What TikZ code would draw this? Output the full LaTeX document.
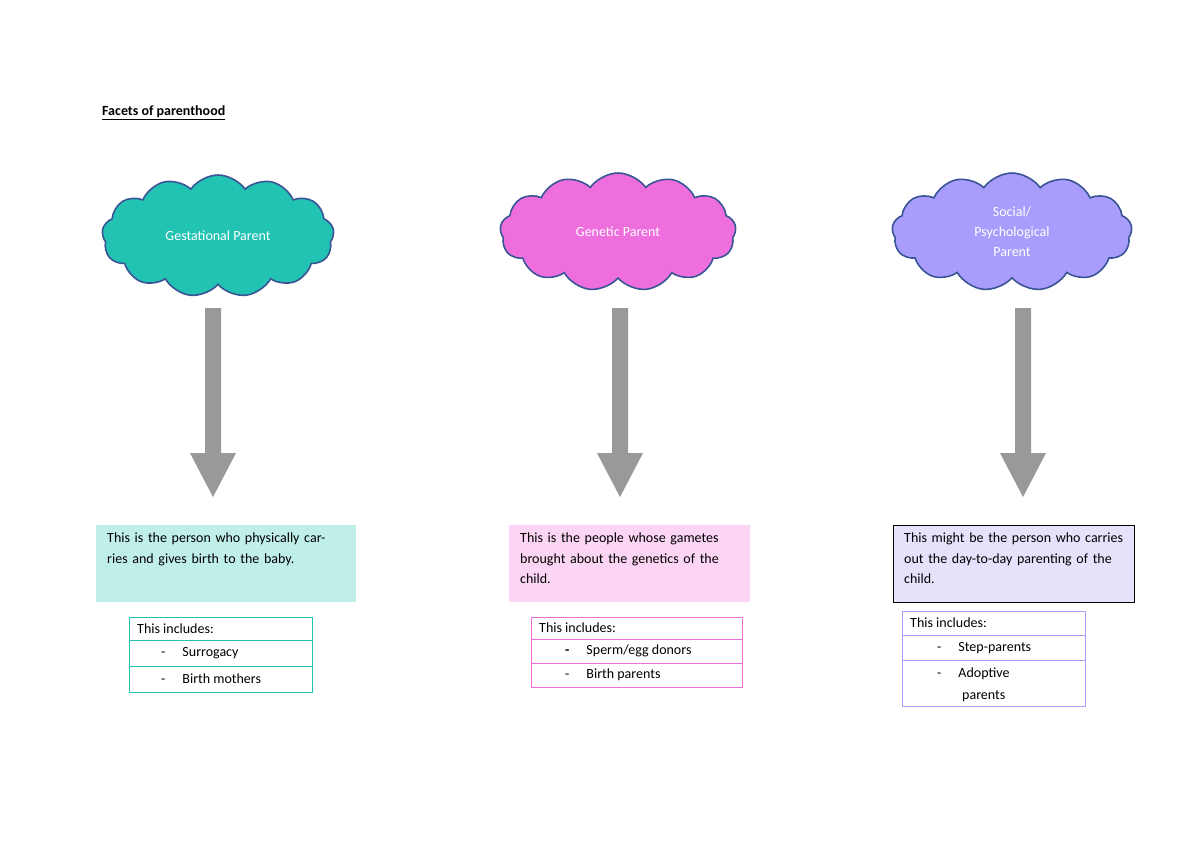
\documentclass[tikz,border=0pt]{standalone}
\usepackage{fontspec}
\setmainfont{Carlito}
\usetikzlibrary{shapes.symbols}
\definecolor{teal1}{HTML}{22C3B3}
\definecolor{pink1}{HTML}{EE6EDD}
\definecolor{lav1}{HTML}{A89CFC}
\definecolor{cloudline}{HTML}{3A5595}
\definecolor{tealbg}{HTML}{C0EEE8}
\definecolor{pinkbg}{HTML}{FBD5F3}
\definecolor{lavbg}{HTML}{E5E2FC}
\definecolor{arrowgray}{HTML}{999999}
\tikzset{
 cloudnode/.style={cloud, cloud puffs=13, cloud puff arc=110, aspect=2, draw=cloudline, line width=1.6pt, text=white, align=center, font=\fontsize{14}{20}\selectfont},
 descbox/.style={anchor=north west, align=left, inner sep=0pt, font=\fontsize{14}{20.5}\selectfont, text width=230pt},
 tabtxt/.style={anchor=west, inner sep=0pt, font=\fontsize{14}{20}\selectfont},
}
\begin{document}
\begin{tikzpicture}[x=1pt,y=-1pt]
\useasboundingbox (0,0) rectangle (1200,849);
\fill[white] (0,0) rectangle (1200,849);
\node[anchor=west, inner sep=0pt, font=\bfseries\fontsize{14}{17}\selectfont] (title) at (102,113) {\underline{Facets of parenthood}};

\node[cloudnode, fill=teal1, minimum width=232pt, minimum height=122pt] (c1) at (218,236) {Gestational Parent};
\node[cloudnode, fill=pink1, minimum width=236pt, minimum height=118pt] (c2) at (618,232) {Genetic Parent};
\node[cloudnode, fill=lav1, minimum width=240pt, minimum height=118pt] (c3) at (1012,232) {Social/\\Psychological\\Parent};

\foreach \x/\n in {213/1,620/2,1023/3}{
 \fill[arrowgray] (\x-8,308) -- (\x+8,308) -- (\x+8,453) -- (\x+23,453) -- (\x,497) -- (\x-23,453) -- (\x-8,453) -- cycle;
 \coordinate (a\n) at (\x,497);
}

\fill[tealbg] (96,525) rectangle (356,602);
\node[descbox] (d1) at (107,533) {This is the person who physically carries and gives birth to the baby.};
\fill[pinkbg] (509,525) rectangle (750,602);
\node[descbox, text width=225pt] (d2) at (520,533) {This is the people whose gametes brought about the genetics of the child.};
\draw[fill=lavbg, draw=black, line width=0.8pt] (893,525) rectangle (1134,602);
\node[descbox, text width=225pt] (d3) at (904,533) {This might be the person who carries out the day-to-day parenting of the child.};

% table 1
\begin{scope}[draw=teal1, line width=0.8pt]
\draw (129,617) rectangle (312,692);
\draw (129,640) -- (312,640); \draw (129,666) -- (312,666);
\end{scope}
\node[tabtxt] (t1a) at (137,629) {This includes:};
\node[tabtxt] (t1b) at (161,653) {-\hspace{17pt}Surrogacy};
\node[tabtxt] (t1c) at (161,679) {-\hspace{17pt}Birth mothers};

% table 2
\begin{scope}[draw=pink1, line width=0.8pt]
\draw (531,617) rectangle (742,687);
\draw (531,639) -- (742,639); \draw (531,663) -- (742,663);
\end{scope}
\node[tabtxt] (t2a) at (539,628) {This includes:};
\node[tabtxt] (t2b) at (565,651) {\textbf{-}\hspace{17pt}Sperm/egg donors};
\node[tabtxt] (t2c) at (565,675) {-\hspace{17pt}Birth parents};

% table 3
\begin{scope}[draw=lav1, line width=0.8pt]
\draw (902,611) rectangle (1085,706);
\draw (902,635) -- (1085,635); \draw (902,660) -- (1085,660);
\end{scope}
\node[tabtxt] (t3a) at (910,623) {This includes:};
\node[tabtxt] (t3b) at (937,648) {-\hspace{17pt}Step-parents};
\node[tabtxt] (t3c) at (937,674) {-\hspace{17pt}Adoptive};
\node[tabtxt] (t3d) at (962,696) {parents};
\end{tikzpicture}
\end{document}
